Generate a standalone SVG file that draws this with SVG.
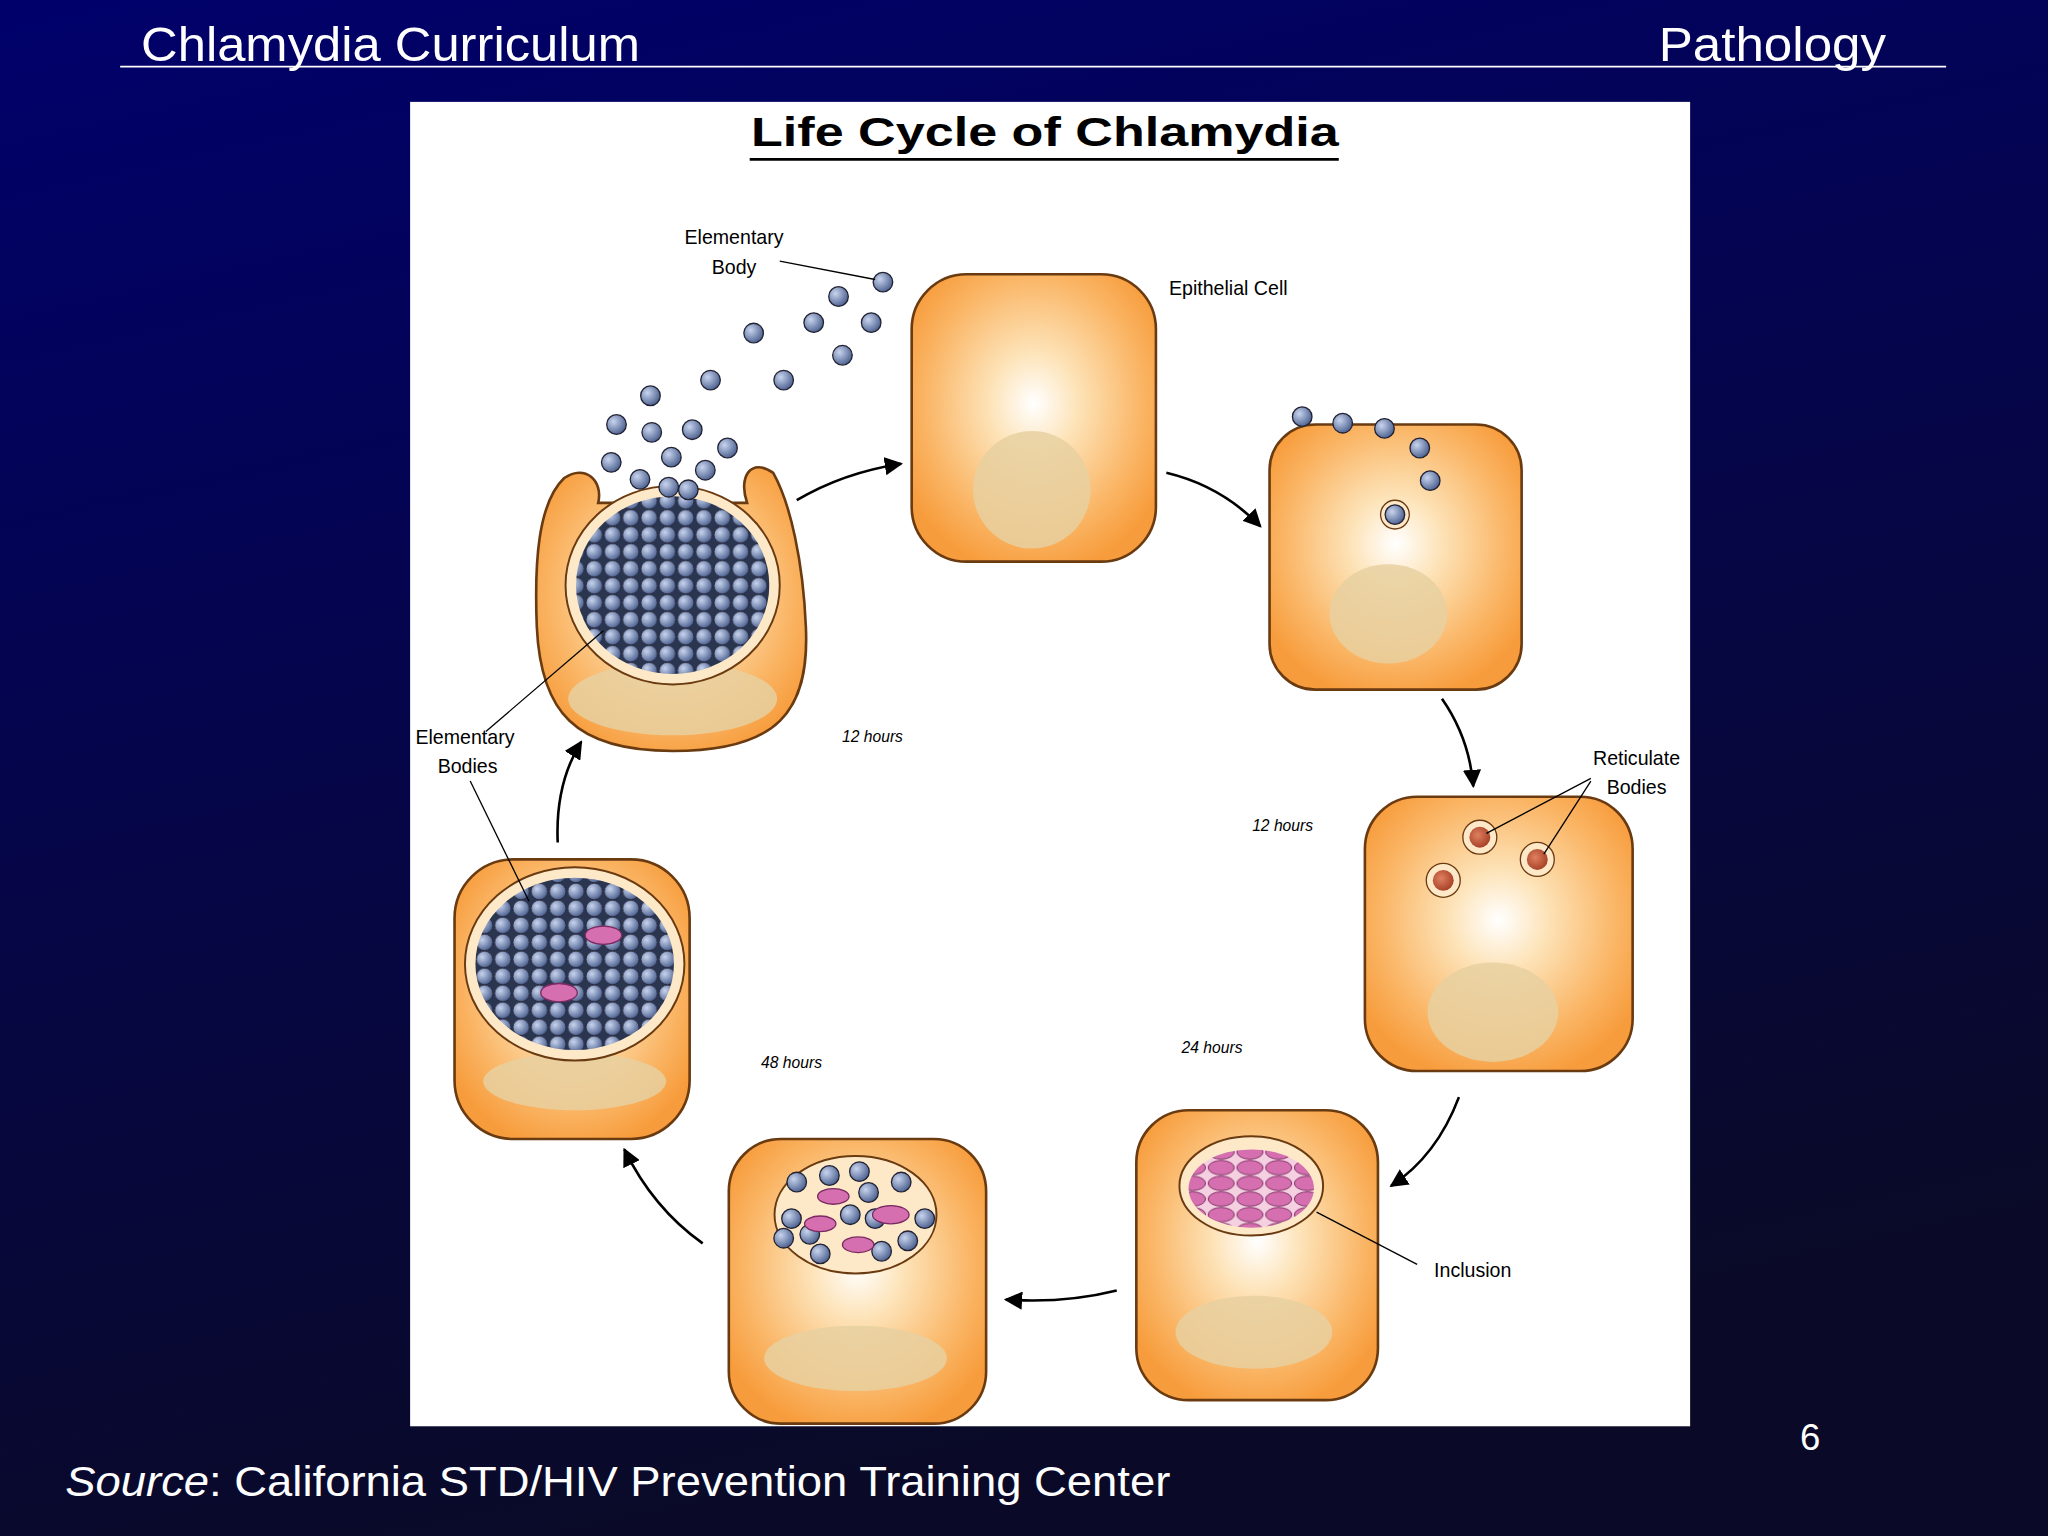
<svg xmlns="http://www.w3.org/2000/svg" width="2048" height="1536" viewBox="0 0 2048 1536">
<defs>
<linearGradient id="bg" x1="0" y1="0" x2="0.3" y2="1"><stop offset="0" stop-color="#00006b"/><stop offset="1" stop-color="#0a0a28"/></linearGradient>
<radialGradient id="cell" cx="0.5" cy="0.45" r="0.6"><stop offset="0" stop-color="#ffffff"/><stop offset="0.3" stop-color="#fde3b8"/><stop offset="0.75" stop-color="#fab463"/><stop offset="1" stop-color="#f79c3c"/></radialGradient>
<radialGradient id="eb" cx="0.35" cy="0.35" r="0.7"><stop offset="0" stop-color="#c8d4ee"/><stop offset="1" stop-color="#4a5f8e"/></radialGradient>
<radialGradient id="rb" cx="0.4" cy="0.4" r="0.7"><stop offset="0" stop-color="#e08060"/><stop offset="1" stop-color="#a03a20"/></radialGradient>
<pattern id="ebp" width="14" height="13" patternUnits="userSpaceOnUse"><rect width="14" height="13" fill="#2a3550"/><circle cx="7" cy="6.5" r="6.3" fill="url(#eb)" stroke="#223" stroke-width="0.6"/></pattern>
<pattern id="pkp" width="22" height="12" patternUnits="userSpaceOnUse"><rect width="22" height="12" fill="#f4d0e0"/><ellipse cx="11" cy="6" rx="10" ry="5.5" fill="#d66fb0" stroke="#7a2a60" stroke-width="0.7"/></pattern>
<marker id="ah" viewBox="0 0 10 10" refX="9" refY="5" markerWidth="7" markerHeight="7" orient="auto"><path d="M0,0 L10,5 L0,10 z" fill="#000"/></marker>
<circle id="e" r="7.5" fill="url(#eb)" stroke="#223" stroke-width="1"/>
</defs>
<style>
.c{fill:url(#cell);stroke:#6a3a10;stroke-width:2}
.n{fill:#e8d0a0;opacity:0.85}
.t{font-family:"Liberation Sans",Arial,sans-serif;fill:#000}
.s{font-size:15px}
.h{font-size:12px;font-style:italic}
.l{stroke:#000;stroke-width:1;fill:none}
.a{stroke:#000;stroke-width:2;fill:none;marker-end:url(#ah)}
.inc{stroke:#6a3a10;stroke-width:1.5}
</style>
<rect width="2048" height="1536" fill="url(#bg)"/>
<g transform="scale(1.30612)">
<g id="header" font-family="Liberation Sans,Arial,sans-serif" fill="#fff">
<text x="108" y="47" font-size="37" textLength="382" lengthAdjust="spacingAndGlyphs">Chlamydia Curriculum</text>
<text x="1270" y="47" font-size="37" textLength="174" lengthAdjust="spacingAndGlyphs">Pathology</text>
<line x1="92" y1="51" x2="1490" y2="51" stroke="#fff" stroke-width="1.5"/>
<text x="1386" y="1110" font-size="28" text-anchor="middle">6</text>
<text x="50" y="1145" font-size="33" textLength="846" lengthAdjust="spacingAndGlyphs"><tspan font-style="italic">Source</tspan>: California STD/HIV Prevention Training Center</text>
</g>
<rect x="314" y="78" width="980" height="1014" fill="#fff"/>
<text class="t" x="575" y="112" font-size="31" font-weight="bold" textLength="450" lengthAdjust="spacingAndGlyphs">Life Cycle of Chlamydia</text>
<line x1="574" y1="122" x2="1025" y2="122" stroke="#000" stroke-width="2"/>

<g id="cell1"><rect class="c" x="698" y="210" width="187" height="220" rx="42"/><ellipse class="n" cx="790" cy="375" rx="45" ry="45"/></g>
<g id="cell2"><rect class="c" x="972" y="325" width="193" height="203" rx="35"/><ellipse class="n" cx="1063" cy="470" rx="45" ry="38"/>
<use href="#e" x="997" y="319"/><use href="#e" x="1028" y="324"/><use href="#e" x="1060" y="328"/><use href="#e" x="1087" y="343"/><use href="#e" x="1095" y="368"/><circle cx="1068" cy="394" r="11" fill="#fde8c8" stroke="#6a3a10"/><use href="#e" x="1068" y="394"/></g>
<g id="cell3"><rect class="c" x="1045" y="610" width="205" height="210" rx="40"/><ellipse class="n" cx="1143" cy="775" rx="50" ry="38"/>
<circle cx="1133" cy="641" r="13" fill="#fde8c8" stroke="#6a3a10"/><circle cx="1133" cy="641" r="8" fill="url(#rb)"/>
<circle cx="1177" cy="658" r="13" fill="#fde8c8" stroke="#6a3a10"/><circle cx="1177" cy="658" r="8" fill="url(#rb)"/>
<circle cx="1105" cy="674" r="13" fill="#fde8c8" stroke="#6a3a10"/><circle cx="1105" cy="674" r="8" fill="url(#rb)"/></g>
<g id="cell4"><rect class="c" x="870" y="850" width="185" height="222" rx="40"/><ellipse class="n" cx="960" cy="1020" rx="60" ry="28"/>
<ellipse cx="958" cy="908" rx="55" ry="38" fill="#fde8c8" class="inc"/><ellipse cx="958" cy="910" rx="48" ry="30" fill="url(#pkp)"/></g>
<g id="cell5"><rect class="c" x="558" y="872" width="197" height="218" rx="40"/><ellipse class="n" cx="655" cy="1040" rx="70" ry="25"/>
<ellipse cx="655" cy="930" rx="62" ry="45" fill="#fde8c8" class="inc"/>
<use href="#e" x="610" y="905"/><use href="#e" x="635" y="900"/><use href="#e" x="658" y="897"/><use href="#e" x="690" y="905"/><use href="#e" x="606" y="933"/><use href="#e" x="600" y="948"/><use href="#e" x="651" y="930"/><use href="#e" x="670" y="933"/><use href="#e" x="708" y="933"/><use href="#e" x="695" y="950"/><use href="#e" x="628" y="960"/><use href="#e" x="675" y="958"/><use href="#e" x="620" y="945"/><use href="#e" x="665" y="913"/>
<ellipse cx="638" cy="916" rx="12" ry="6" fill="#d66fb0" stroke="#7a2a60"/><ellipse cx="682" cy="930" rx="14" ry="7" fill="#d66fb0" stroke="#7a2a60"/><ellipse cx="628" cy="937" rx="12" ry="6" fill="#d66fb0" stroke="#7a2a60"/><ellipse cx="657" cy="953" rx="12" ry="6" fill="#d66fb0" stroke="#7a2a60"/></g>
<g id="cell6"><rect class="c" x="348" y="658" width="180" height="214" rx="45"/><ellipse class="n" cx="440" cy="828" rx="70" ry="22"/>
<ellipse cx="440" cy="738" rx="84" ry="74" fill="#fde8c8" class="inc"/><ellipse cx="440" cy="738" rx="76" ry="66" fill="url(#ebp)"/>
<ellipse cx="462" cy="716" rx="14" ry="7" fill="#d66fb0" stroke="#7a2a60"/><ellipse cx="428" cy="760" rx="14" ry="7" fill="#d66fb0" stroke="#7a2a60"/></g>
<g id="cell7"><path class="c" d="M432,366 C412,385 409,430 411,480 C414,545 440,575 515,575 C595,575 620,545 617,480 C615,430 605,385 592,362 C575,350 565,365 572,385 L458,385 C462,368 448,355 432,366 Z"/>
<ellipse class="n" cx="515" cy="535" rx="80" ry="28"/>
<ellipse cx="515" cy="448" rx="82" ry="76" fill="#fde8c8" class="inc"/><ellipse cx="515" cy="448" rx="74" ry="68" fill="url(#ebp)"/>
<use href="#e" x="676" y="216"/><use href="#e" x="642" y="227"/><use href="#e" x="623" y="247"/><use href="#e" x="667" y="247"/><use href="#e" x="577" y="255"/><use href="#e" x="645" y="272"/><use href="#e" x="544" y="291"/><use href="#e" x="600" y="291"/><use href="#e" x="498" y="303"/><use href="#e" x="472" y="325"/><use href="#e" x="499" y="331"/><use href="#e" x="530" y="329"/><use href="#e" x="557" y="343"/><use href="#e" x="468" y="354"/><use href="#e" x="514" y="350"/><use href="#e" x="540" y="360"/><use href="#e" x="490" y="367"/><use href="#e" x="512" y="373"/><use href="#e" x="527" y="375"/></g>

<g id="connectors">
<path class="a" d="M610,383 Q645,362 690,355"/>
<path class="a" d="M893,362 Q935,372 965,403"/>
<path class="a" d="M1104,535 Q1125,565 1128,602"/>
<path class="a" d="M1117,840 Q1100,885 1065,908"/>
<path class="a" d="M855,988 Q815,998 770,995"/>
<path class="a" d="M538,952 Q500,925 478,880"/>
<path class="a" d="M427,645 Q425,600 445,568"/>
<line class="l" x1="597" y1="200" x2="670" y2="214"/>
<line class="l" x1="1218" y1="596" x2="1138" y2="638"/>
<line class="l" x1="1218" y1="598" x2="1182" y2="654"/>
<line class="l" x1="1085" y1="968" x2="1008" y2="928"/>
<line class="l" x1="372" y1="560" x2="462" y2="483"/>
<line class="l" x1="360" y1="598" x2="405" y2="690"/>
</g>
<g id="labels">
<text class="t s" x="562" y="187" text-anchor="middle">Elementary</text>
<text class="t s" x="562" y="210" text-anchor="middle">Body</text>
<text class="t s" x="895" y="226">Epithelial Cell</text>
<text class="t s" x="1253" y="586" text-anchor="middle">Reticulate</text>
<text class="t s" x="1253" y="608" text-anchor="middle">Bodies</text>
<text class="t s" x="1098" y="978">Inclusion</text>
<text class="t s" x="356" y="570" text-anchor="middle">Elementary</text>
<text class="t s" x="358" y="592" text-anchor="middle">Bodies</text>
<text class="t h" x="668" y="568" text-anchor="middle">12 hours</text>
<text class="t h" x="982" y="636" text-anchor="middle">12 hours</text>
<text class="t h" x="928" y="806" text-anchor="middle">24 hours</text>
<text class="t h" x="606" y="818" text-anchor="middle">48 hours</text>
</g>
</g>
</svg>
